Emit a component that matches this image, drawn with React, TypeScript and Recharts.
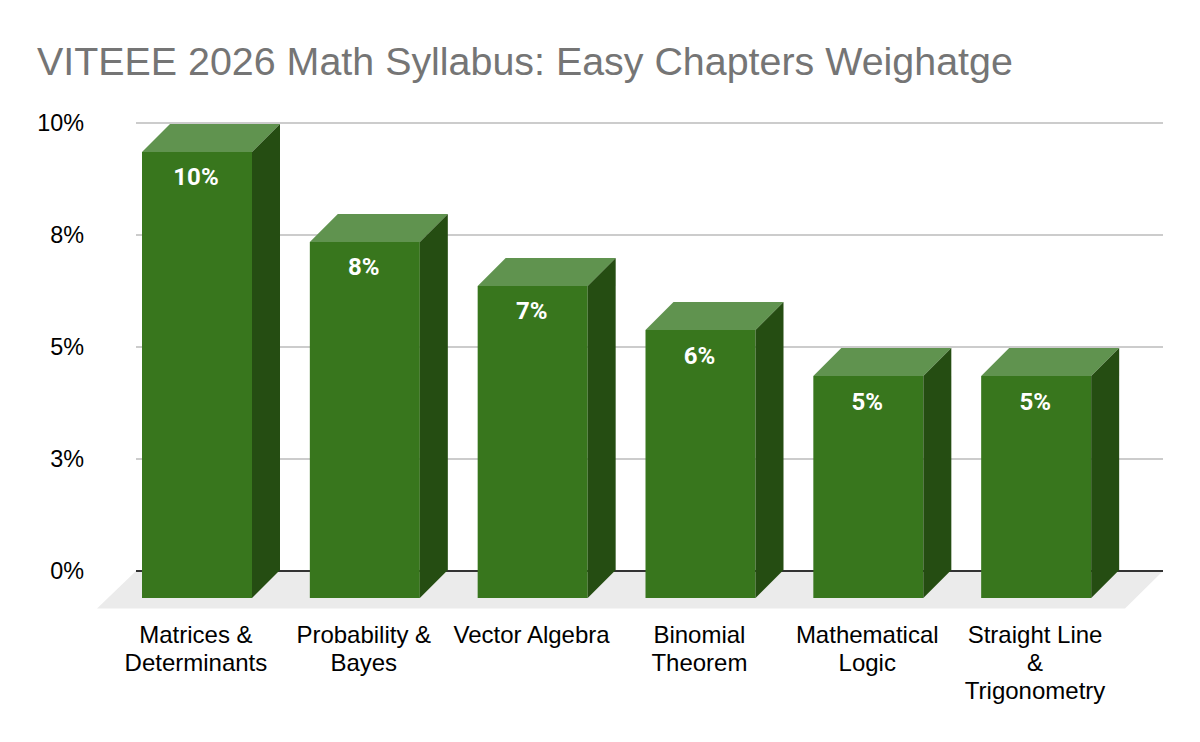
import { BarChart, Bar, XAxis, YAxis, CartesianGrid, LabelList } from "recharts";

const chapters = [
  "Matrices &\nDeterminants",
  "Probability &\nBayes",
  "Vector Algebra",
  "Binomial\nTheorem",
  "Mathematical\nLogic",
  "Straight Line\n&\nTrigonometry",
];
const weightage = [10, 7.98, 7, 6, 4.98, 4.98];
const yTicks = [0, 2.5, 5, 7.5, 10];

const data = chapters.map((name, i) => ({ name, value: weightage[i] }));

const FONT = "'Liberation Sans', Arial, sans-serif";
const DEPTH = 28;

// google sheets style 3d box, the scale value sits on the back edge
function Box3D(props: any) {
  const { x, y, width, height } = props;
  const bottom = y + height - 1;
  const top = Math.round(bottom - (height * 446) / 448);
  const right = x + width;
  return (
    <g>
      <rect x={x} y={top + DEPTH} width={width} height={bottom - top} fill="#38761d" />
      <polygon
        points={`${x},${top + DEPTH} ${x + DEPTH},${top} ${right + DEPTH},${top} ${right},${top + DEPTH}`}
        fill="#60934f"
      />
      <polygon
        points={`${right},${top + DEPTH} ${right + DEPTH},${top} ${right + DEPTH},${bottom} ${right},${bottom + DEPTH}`}
        fill="#254d12"
      />
    </g>
  );
}

function GridLine(props: any) {
  const { x1, x2, y1 } = props;
  const left = x1 + 23;
  const right = x2 + 43;
  if (y1 > 500) {
    return (
      <g>
        <polygon
          points={`${left},${y1} ${right},${y1} ${right - 38},${y1 + 37.5} ${left - 39},${y1 + 37.5}`}
          fill="#ebebeb"
        />
        <line x1={left} x2={right} y1={y1} y2={y1} stroke="#333333" strokeWidth={2} />
      </g>
    );
  }
  return <line x1={left} x2={right} y1={y1} y2={y1} stroke="#cccccc" strokeWidth={2} />;
}

function CategoryTick(props: any) {
  const { x, payload } = props;
  const lines = String(payload.value).split("\n");
  return (
    <text x={x - 1} textAnchor="middle" fontFamily={FONT} fontSize={24} fill="#000000">
      {lines.map((line, i) => (
        <tspan key={i} x={x - 1} y={643 + i * 28}>
          {line}
        </tspan>
      ))}
    </text>
  );
}

function ValueLabel(props: any) {
  const { x, y, width, value } = props;
  return (
    <text
      x={x + width / 2 - 1}
      y={y + DEPTH + 34}
      textAnchor="middle"
      fontFamily="Roboto, sans-serif"
      fontWeight={700}
      fontSize={24}
      fill="#ffffff"
    >
      {Math.round(value)}%
    </text>
  );
}

export default function App() {
  return (
    <div style={{ position: "absolute", left: 0, top: 0, width: 1200, height: 742, background: "#fff" }}>
      <div
        style={{
          position: "absolute",
          left: 37,
          top: 39,
          fontFamily: FONT,
          fontSize: 39.4,
          lineHeight: "44px",
          color: "#757575",
          whiteSpace: "nowrap",
        }}
      >
        VITEEE 2026 Math Syllabus: Easy Chapters Weighatge
      </div>
      <BarChart
        width={1200}
        height={742}
        data={data}
        barSize={110}
        margin={{ top: 123, right: 80, bottom: 0, left: 0 }}
      >
        <CartesianGrid vertical={false} horizontal={GridLine as any} />
        <XAxis
          dataKey="name"
          height={171}
          axisLine={false}
          tickLine={false}
          interval={0}
          tick={CategoryTick as any}
        />
        <YAxis
          width={113}
          domain={[0, 10]}
          ticks={yTicks}
          axisLine={false}
          tickLine={false}
          tickSize={0}
          tickMargin={29}
          tickFormatter={(v: number) => `${Math.round(v)}%`}
          tick={{ fontFamily: FONT, fontSize: 23.4, fill: "#000000" }}
        />
        <Bar dataKey="value" shape={Box3D as any} isAnimationActive={false}>
          <LabelList dataKey="value" content={ValueLabel as any} />
        </Bar>
      </BarChart>
    </div>
  );
}
